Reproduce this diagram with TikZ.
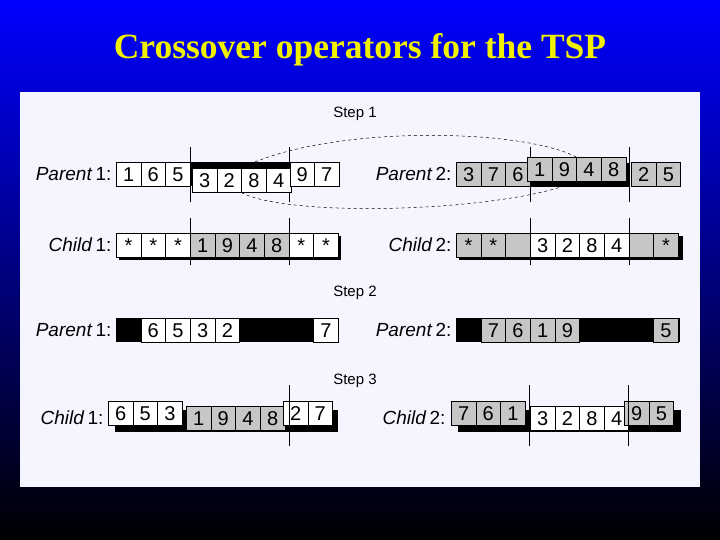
\documentclass[tikz,border=0pt]{standalone}
\usepackage{fontspec}
\setmainfont{Liberation Sans}
\newfontfamily\titlefont{Liberation Serif}
\begin{document}
\begin{tikzpicture}[x=1pt,y=-1pt,
  cw/.style={draw=black,line width=0.6pt,fill=white,inner sep=0pt,minimum width=24.67pt,minimum height=24pt,anchor=north west,font=\fontsize{20}{20}\selectfont},
  cg/.style={cw,fill=gray!45},
  lab/.style={anchor=east,font=\fontsize{19}{19}\selectfont},
  steplab/.style={font=\fontsize{15}{15}\selectfont},
  vline/.style={line width=0.5pt},
  darr/.style={dashed,line width=0.5pt,-stealth}]
\useasboundingbox (0,0) rectangle (720,540);
\shade[top color={rgb,255:red,0;green,0;blue,255},bottom color=black] (0,0) rectangle (720,540);
\fill[white!96!blue] (20,92) rectangle (700,487);
\node[font=\titlefont\bfseries\fontsize{35.5}{36}\selectfont,text={rgb,255:red,240;green,240;blue,0}] (title) at (360,50) {Crossover operators for the TSP};
\def\cwd{24.67}
% Step 1
\node[steplab] (s1) at (355,114) {Step 1};
\node[lab] (lp1) at (115,174) {\textit{Parent}\,1:};
\node[lab] (lc1) at (115,245) {\textit{Child}\,1:};
\node[lab] (lp2) at (455,174) {\textit{Parent}\,2:};
\node[lab] (lc2) at (455,245) {\textit{Child}\,2:};
\draw[vline] (190,147) -- (190,202) (190,218) -- (190,265);
\draw[vline] (289,147) -- (289,202) (289,218) -- (289,265);
\draw[vline] (530,147) -- (530,202) (530,218) -- (530,265);
\draw[vline] (629,147) -- (629,202) (629,218) -- (629,265);
% parent 1
\fill[black] (188,162) rectangle (291,186);
\foreach \t [count=\i] in {1,6,5} \node[cw] (p1a\i) at ({116+(\i-1)*\cwd},162) {\t};
\foreach \t [count=\i] in {3,2,8,4} \node[cw] (p1b\i) at ({192+(\i-1)*\cwd},168) {\t};
\foreach \t [count=\i] in {9,7} \node[cw] (p1c\i) at ({289.5+(\i-1)*\cwd},162) {\t};
% parent 2
\fill[black] (528,163) rectangle (630,187);
\foreach \t [count=\i] in {3,7,6} \node[cg] (p2a\i) at ({456+(\i-1)*\cwd},162) {\t};
\foreach \t [count=\i] in {1,9,4,8} \node[cg] (p2b\i) at ({527+(\i-1)*\cwd},157) {\t};
\foreach \t [count=\i] in {2,5} \node[cg] (p2c\i) at ({631+(\i-1)*\cwd},162) {\t};
% child 1
\fill[black] (119,236) rectangle (341,260);
\foreach \t [count=\i] in {*,*,*,1,9,4,8,*,*} {
  \ifnum\i>3 \ifnum\i<8 \node[cg] (c1\i) at ({116+(\i-1)*\cwd},233) {\t};
  \else \node[cw] (c1\i) at ({116+(\i-1)*\cwd},233) {\t}; \fi
  \else \node[cw] (c1\i) at ({116+(\i-1)*\cwd},233) {\t}; \fi}
% child 2
\fill[black] (459,236) rectangle (683,260);
\foreach \t [count=\i] in {*,*,{},3,2,8,4,{},*} {
  \ifnum\i>3 \ifnum\i<8 \node[cw] (c2\i) at ({456+(\i-1)*\cwd},233) {\t};
  \else \node[cg] (c2\i) at ({456+(\i-1)*\cwd},233) {\t}; \fi
  \else \node[cg] (c2\i) at ({456+(\i-1)*\cwd},233) {\t}; \fi}
% arrows
\draw[darr] (p2b3.north west) .. controls (520,128) and (330,125) .. (p1b3.north west);
\draw[darr] (p1b3.south west) .. controls (290,218) and (500,212) .. (p2b3.south west);
% Step 2
\node[steplab] (s2) at (355,293) {Step 2};
\node[lab] (lp1s2) at (115,330) {\textit{Parent}\,1:};
\node[lab] (lp2s2) at (455,330) {\textit{Parent}\,2:};
\fill[black] (116,318) rectangle (338,342);
\foreach \t [count=\i] in {6,5,3,2} \node[cw] (q1\i) at ({116+\i*\cwd},318) {\t};
\node[cw] (q17) at ({116+8*\cwd},318) {7};
\fill[black] (456,318) rectangle (680,342);
\foreach \t [count=\i] in {7,6,1,9} \node[cg] (q2\i) at ({456+\i*\cwd},318) {\t};
\node[cg] (q25) at ({456+8*\cwd},318) {5};
% Step 3
\node[steplab] (s3) at (355,381) {Step 3};
\node[lab] (lc1s3) at (107,418) {\textit{Child}\,1:};
\node[lab] (lc2s3) at (449,418) {\textit{Child}\,2:};
\fill[black] (115,410) rectangle (338,432);
\foreach \t [count=\i] in {6,5,3} \node[cw] (r1a\i) at ({108+(\i-1)*\cwd},401) {\t};
\foreach \t [count=\i] in {1,9,4,8} \node[cg] (r1b\i) at ({186+(\i-1)*\cwd},406) {\t};
\foreach \t [count=\i] in {2,7} \node[cw] (r1c\i) at ({283+(\i-1)*\cwd},401) {\t};
\draw[vline] (289,385) -- (289,446);
\fill[black] (458,410) rectangle (681,432);
\foreach \t [count=\i] in {7,6,1} \node[cg] (r2a\i) at ({451+(\i-1)*\cwd},401) {\t};
\foreach \t [count=\i] in {3,2,8,4} \node[cw] (r2b\i) at ({530+(\i-1)*\cwd},406) {\t};
\foreach \t [count=\i] in {9,5} \node[cg] (r2c\i) at ({624+(\i-1)*\cwd},401) {\t};
\draw[vline] (529,385) -- (529,446);
\draw[vline] (628,385) -- (628,446);
\end{tikzpicture}
\end{document}
